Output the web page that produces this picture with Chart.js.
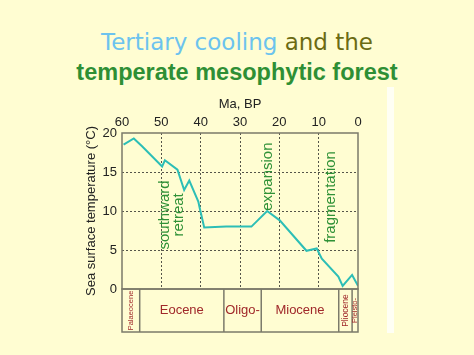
<!DOCTYPE html>
<html>
<head>
<meta charset="utf-8">
<script src="https://cdn.jsdelivr.net/npm/chart.js@4.4.1/dist/chart.umd.min.js"></script>
<style>
  html, body { margin: 0; padding: 0; background: #fffdd2; }
  #wrap { position: relative; width: 474px; height: 355px; overflow: hidden; }
  #chart { position: absolute; left: 0; top: 0; }
  .t1, .t2 { position: absolute; left: 0; width: 474px; text-align: center; white-space: nowrap; line-height: 1.15; }
  .t1 { top: 29px; font-family: "DejaVu Sans", sans-serif; font-size: 23px; color: #6b6b12; }
  .t1 span { color: #6cc3ee; }
  .t2 { top: 59px; font-family: "Liberation Sans", Arial, sans-serif; font-weight: bold; font-size: 23.5px; color: #2e8f35; }
  #strip { position: absolute; left: 387px; top: 87px; width: 7px; height: 246px; background: #fffff4; }
</style>
</head>
<body>
<div id="wrap">
  <div class="t1"><span>Tertiary cooling</span> and the</div>
  <div class="t2">temperate mesophytic forest</div>
  <div id="strip"></div>
  <canvas id="chart" width="474" height="355"></canvas>
</div>
<script>
// sea surface temperature curve
const ages  = [59.6, 57.0, 54.9, 49.8, 49.1, 45.9, 44.2, 42.9, 40.6, 40.2, 39.1, 33.5, 27.1, 23.1, 19.9, 13.1, 10.5, 9.2, 5.0, 3.9, 1.5, 0]
const temps = [18.5, 19.3, 18.3, 15.7, 16.5, 15.3, 12.7, 13.9, 11.2, 10.3, 7.9, 8.0, 8.0, 10.0, 8.8, 4.9, 5.2, 3.9, 1.6, 0.4, 1.8, 0.4]

// geological epochs (Ma)
const epochNames = ["Palaeocene", "Eocene", "Oligo-", "Miocene", "Pliocene", "Pleisto-"]
const epochFrom  = [60, 55.5, 34.1, 24.6, 4.9, 1.5]
const epochTo    = [55.5, 34.1, 24.6, 4.9, 1.5, 0]
const epochSmall = [true, false, false, false, true, true]

// green rotated notes, anchored in data coordinates
const noteText = ["southward", "retreat", "expansion", "fragmentation"]
const noteAge  = [49.1, 45.5, 23.0, 6.9]
const noteTemp = [9.5, 9.5, 14.4, 11.8]

const FONT = '"Liberation Sans", Arial, sans-serif'

const extras = {
  id: "extras",
  afterDraw(chart) {
    const ctx = chart.ctx
    const { left, right, top, bottom } = chart.chartArea
    const x = chart.scales.x
    const y = chart.scales.y

    ctx.save()
    // plot frame
    ctx.strokeStyle = "#7b7a6a"
    ctx.lineWidth = 1.5
    ctx.strokeRect(left, top, right - left, bottom - top)

    // epoch strip
    const boxTop = bottom
    const boxBottom = bottom + 43
    ctx.strokeRect(left, boxTop, right - left, boxBottom - boxTop)
    ctx.fillStyle = "#a0282a"
    ctx.textAlign = "center"
    ctx.textBaseline = "middle"
    epochNames.forEach((name, i) => {
      const x0 = x.getPixelForValue(epochFrom[i])
      const x1 = x.getPixelForValue(epochTo[i])
      if (i > 0) {
        ctx.beginPath()
        ctx.moveTo(x0, boxTop)
        ctx.lineTo(x0, boxBottom)
        ctx.stroke()
      }
      const cx = (x0 + x1) / 2
      const cy = (boxTop + boxBottom) / 2
      if (epochSmall[i]) {
        ctx.save()
        ctx.translate(cx, cy)
        ctx.rotate(-Math.PI / 2)
        ctx.font = (i === 4 ? "8.5px " : "7.5px ") + FONT
        ctx.fillText(name, 0, 0)
        ctx.restore()
      } else {
        ctx.font = "13px " + FONT
        ctx.fillText(name, cx, cy)
      }
    })

    // notes
    ctx.fillStyle = "#2f9137"
    ctx.font = "15px " + FONT
    noteText.forEach((t, i) => {
      ctx.save()
      ctx.translate(x.getPixelForValue(noteAge[i]), y.getPixelForValue(noteTemp[i]))
      ctx.rotate(-Math.PI / 2)
      ctx.fillText(t, 0, 0)
      ctx.restore()
    })
    ctx.restore()
  }
}

const edgeTransparent = (lo, hi) => (c) =>
  (c.tick && (c.tick.value === lo || c.tick.value === hi)) ? "rgba(0,0,0,0)" : "#55554a"

new Chart(document.getElementById("chart"), {
  type: "line",
  data: {
    datasets: [{
      data: ages.map((a, i) => ({ x: a, y: temps[i] })),
      borderColor: "rgb(44, 190, 182)",
      borderWidth: 2,
      pointRadius: 0,
      tension: 0,
      fill: false,
    }]
  },
  options: {
    responsive: false,
    animation: false,
    layout: { padding: { left: 80, top: 93, right: 116, bottom: 66 } },
    plugins: { legend: { display: false }, tooltip: { enabled: false } },
    scales: {
      x: {
        type: "linear",
        position: "top",
        min: 0,
        max: 60,
        reverse: true,
        afterFit: (s) => { s.height = 40 },
        ticks: { stepSize: 10, color: "#222", font: { family: FONT, size: 13 }, padding: 3 },
        grid: { drawTicks: false, color: edgeTransparent(0, 60), lineWidth: 1 },
        border: { display: false, dash: [2, 2] },
        title: { display: true, text: "Ma, BP", color: "#222", font: { family: FONT, size: 13 } },
      },
      y: {
        min: 0,
        max: 20,
        afterFit: (s) => { s.width = 42 },
        ticks: { stepSize: 5, color: "#222", font: { family: FONT, size: 13 }, padding: 5 },
        grid: { drawTicks: false, color: edgeTransparent(0, 20), lineWidth: 1 },
        border: { display: false, dash: [2, 2] },
        title: { display: true, text: "Sea surface temperature (°C)", color: "#222", font: { family: FONT, size: 13 } },
      }
    }
  },
  plugins: [extras]
})
</script>
</body>
</html>
